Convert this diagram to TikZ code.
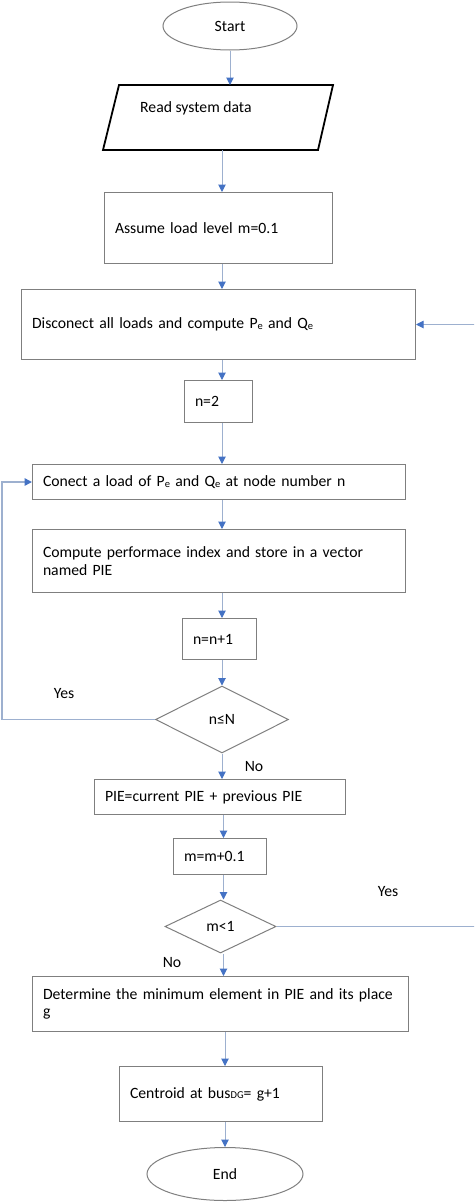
\documentclass[tikz,border=0pt]{standalone}
\usepackage{fontspec}
\setmainfont{Carlito}
\usetikzlibrary{shapes.geometric,arrows.meta}
\definecolor{linecol}{HTML}{9DB0CF}
\definecolor{tipcol}{HTML}{4472C4}
\definecolor{boxcol}{HTML}{7F7F7F}
\tikzset{
  x=1pt,y=-1pt,
  every node/.style={font=\fontsize{15.7}{17.5}\selectfont},
  box/.style={draw=boxcol,line width=1pt,rectangle,anchor=north west,inner xsep=10.5pt,inner ysep=0pt,align=left},
  term/.style={draw=boxcol,line width=1pt,ellipse,inner sep=0pt},
  decide/.style={draw=boxcol,line width=1pt,diamond,inner sep=0pt},
  arr/.style={draw=linecol,line width=1pt,-{Triangle[length=7.5pt,width=7.5pt,color=tipcol]}},
  loopline/.style={draw=linecol,line width=1.6pt,-{Triangle[length=7.5pt,width=7.5pt,color=tipcol]}},
  lbl/.style={inner sep=0pt}
}
\newcommand{\sub}[1]{\raisebox{-0.7pt}{\fontsize{10.5}{10.5}\selectfont #1}}
\begin{document}
\begin{tikzpicture}
\useasboundingbox (0,0) rectangle (474,1202);
\clip (0,0) rectangle (474,1202);
% Start
\node[term,minimum width=134pt,minimum height=48pt] (start) at (230,26) {Start};
% Read system data (parallelogram)
\draw[black,line width=1.8pt,line join=miter] (119,85) -- (333,85) -- (318,150) -- (103,150) -- cycle;
\node[inner sep=0pt,anchor=west] (read) at (140,108) {Read system data};
\coordinate (readtop) at (230,85);
\coordinate (readbot) at (222,150);
% Assume
\node[box,minimum width=228pt,minimum height=71pt,text width=207pt] (assume) at (104,192) {Assume load level m=0.1};
% Disconnect
\node[box,minimum width=394pt,minimum height=70pt,text width=373pt] (disc) at (21,289) {Disconect all loads and compute P\sub{e} and Q\sub{e}};
% n=2
\node[box,minimum width=68pt,minimum height=42pt,text width=47pt] (n2) at (184,380) {n=2};
% Conect
\node[box,minimum width=373pt,minimum height=35pt,text width=352pt] (con) at (32,464) {Conect a load of P\sub{e} and Q\sub{e} at node number n};
% Compute
\node[box,minimum width=373pt,minimum height=63pt,text width=352pt] (comp) at (32,529) {Compute performace index and store in a vector\\named PIE};
% n=n+1
\node[box,minimum width=74pt,minimum height=41pt,text width=53pt] (ninc) at (182,618) {n=n+1};
% n<=N
\node[decide,minimum width=133pt,minimum height=67pt] (dn) at (222,719.5) {n≤N};
% PIE
\node[box,minimum width=251pt,minimum height=35pt,text width=230pt] (pie) at (94,779) {PIE=current PIE + previous PIE};
% m=m+0.1
\node[box,minimum width=93pt,minimum height=36pt,text width=72pt] (minc) at (173,838) {m=m+0.1};
% m<1
\node[decide,minimum width=111pt,minimum height=53pt] (dm) at (220.5,926.5) {m<1};
% Determine
\node[box,minimum width=376pt,minimum height=55pt,text width=355pt] (det) at (32,976) {Determine the minimum element in PIE and its place\\g};
% Centroid
\node[box,minimum width=203pt,minimum height=55pt,text width=182pt] (cen) at (119,1066) {Centroid at bus\sub{DG}= g+1};
% End
\node[term,minimum width=156pt,minimum height=53pt] (endn) at (225,1174) {End};
% column coordinates
\coordinate (cA) at (222,0);
\coordinate (cB) at (223.5,0);
\coordinate (cC) at (225,0);
\coordinate (leftrail) at (2,0);
\coordinate (rightrail) at (480,0);
% arrows
\draw[arr] (start.south) -- (readtop);
\draw[arr] (readbot) -- (assume.north -| readbot);
\draw[arr] (assume.south -| cA) -- (disc.north -| cA);
\draw[arr] (disc.south -| cA) -- (n2.north -| cA);
\draw[arr] (n2.south -| cA) -- (con.north -| cA);
\draw[arr] (con.south -| cA) -- (comp.north -| cA);
\draw[arr] (comp.south -| cA) -- (ninc.north -| cA);
\draw[arr] (ninc.south -| cA) -- (dn.north);
\draw[arr] (dn.south) -- (pie.north -| dn.south);
\draw[arr] (pie.south -| cB) -- (minc.north -| cB);
\draw[arr] (minc.south -| cB) -- (dm.north -| cB);
\draw[arr] (dm.south -| cB) -- (det.north -| cB);
\draw[arr] (det.south -| cC) -- (cen.north -| cC);
\draw[arr] (cen.south -| cC) -- (endn.north);
% loops
\draw[loopline] (dn.west) -- (dn.west -| leftrail) -- (con.west -| leftrail) -- (con.west);
\draw[arr] (dm.east) -- (dm.east -| rightrail) -- (disc.east -| rightrail) -- (disc.east);
% labels
\node[lbl] (yes1) at (64,694) {Yes};
\node[lbl] (no1) at (254,767) {No};
\node[lbl] (yes2) at (388,892) {Yes};
\node[lbl] (no2) at (172,963) {No};
\end{tikzpicture}
\end{document}
